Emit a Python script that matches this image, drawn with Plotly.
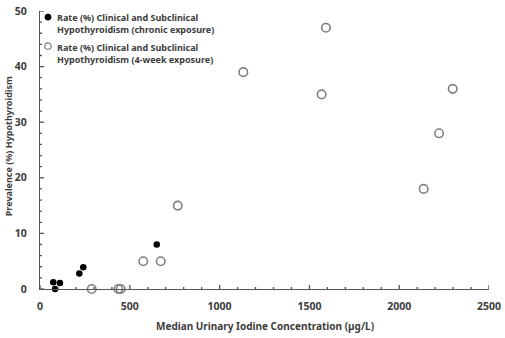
import plotly.graph_objects as go

# Chronic exposure: median urinary iodine (µg/L) vs. prevalence (%)
chronic_uic = [74, 84, 111, 219, 241, 650]
chronic_rate = [1.2, 0, 1.1, 2.8, 3.9, 8]

# 4-week exposure
week4_uic = [288, 436, 449, 575, 672, 767, 1132, 1568, 1592, 2136, 2222, 2298]
week4_rate = [0, 0, 0, 5, 5, 15, 39, 35, 47, 18, 28, 36]

x_ticks = [0, 500, 1000, 1500, 2000, 2500]
y_ticks = [0, 10, 20, 30, 40, 50]
x_minor_step = 100
y_minor_step = 2

x_title = "Median Urinary Iodine Concentration (µg/L)"
y_title = "Prevalence (%) Hypothyroidism"
legend_labels = [
    "Rate (%) Clinical and Subclinical<br>Hypothyroidism (chronic exposure)",
    "Rate (%) Clinical and Subclinical<br>Hypothyroidism (4-week exposure)",
]

FONT = "Noto Sans"
TXT = "#3c3c3c"
AX = "#555555"

fig = go.Figure()

fig.add_trace(go.Scatter(
    x=week4_uic, y=week4_rate, mode="markers", cliponaxis=False,
    marker=dict(symbol="circle-open", size=8.5, color="#808080",
                line=dict(width=1.6, color="#808080")),
    showlegend=False,
))
fig.add_trace(go.Scatter(
    x=chronic_uic, y=chronic_rate, mode="markers", cliponaxis=False,
    marker=dict(symbol="circle", size=6.5, color="#000000"),
    showlegend=False,
))

tick_font = dict(size=10.5, family=FONT, weight="bold", color=TXT)

fig.update_layout(
    width=505, height=338,
    margin=dict(l=40, r=16, t=11, b=49),
    paper_bgcolor="white", plot_bgcolor="white",
    font=dict(family=FONT, color=TXT),
    xaxis=dict(
        range=[0, 2500], tickvals=x_ticks, ticks="", automargin=False,
        showline=True, linecolor=AX, linewidth=1.2,
        showgrid=False, zeroline=False,
        tickfont=tick_font, ticklabelstandoff=7,
    ),
    yaxis=dict(
        range=[0, 50], tickvals=y_ticks, ticks="", automargin=False,
        showline=True, linecolor=AX, linewidth=1.2,
        showgrid=False, zeroline=False,
        tickfont=tick_font, ticklabelstandoff=10,
    ),
)

# Axis titles
fig.add_annotation(xref="paper", yref="paper", x=0.5, y=-0.133,
                   xanchor="center", yanchor="middle", showarrow=False,
                   text=x_title,
                   font=dict(size=10, family=FONT, weight="bold", color=TXT))
fig.add_annotation(xref="paper", yref="paper", x=-0.071, y=0.514,
                   xanchor="center", yanchor="middle", showarrow=False,
                   text=y_title, textangle=-90,
                   font=dict(size=9, family=FONT, weight="bold", color=TXT))

# Tick marks crossing the axis lines (major and minor)
def x_tick(v, half):
    fig.add_shape(type="line", xref="x", x0=v, x1=v,
                  yref="y", ysizemode="pixel", yanchor=0, y0=-half, y1=half,
                  line=dict(color=AX, width=1.3), layer="above")

def y_tick(v, half):
    fig.add_shape(type="line", yref="y", y0=v, y1=v,
                  xref="x", xsizemode="pixel", xanchor=0, x0=-half, x1=half,
                  line=dict(color=AX, width=1.3), layer="above")

for v in range(x_ticks[0], x_ticks[-1] + 1, x_minor_step):
    x_tick(v, 4 if v in x_ticks else 2)
for v in range(y_ticks[0], y_ticks[-1] + 1, y_minor_step):
    y_tick(v, 4 if v in y_ticks else 2)

# Legend block in the upper-left corner of the plot
legend_text_y = [1.007, 0.899]
legend_mark_y = [0.978, 0.874]
for i, label in enumerate(legend_labels):
    fig.add_annotation(
        xref="paper", yref="paper", x=0.033, y=legend_text_y[i],
        xanchor="left", yanchor="top",
        text=label, showarrow=False, align="left",
        font=dict(size=9, family=FONT, weight="bold", color=TXT),
    )
    cx, cy = 0.0178, legend_mark_y[i]
    if i == 0:
        rx, ry = 0.0067, 0.0108
        fig.add_shape(type="circle", xref="paper", yref="paper",
                      x0=cx - rx, x1=cx + rx, y0=cy - ry, y1=cy + ry,
                      fillcolor="#000000", line=dict(color="#000000", width=1))
    else:
        rx, ry = 0.0072, 0.0117
        fig.add_shape(type="circle", xref="paper", yref="paper",
                      x0=cx - rx, x1=cx + rx, y0=cy - ry, y1=cy + ry,
                      fillcolor="white", line=dict(color="#808080", width=1.2))

fig.write_html("out.html")
